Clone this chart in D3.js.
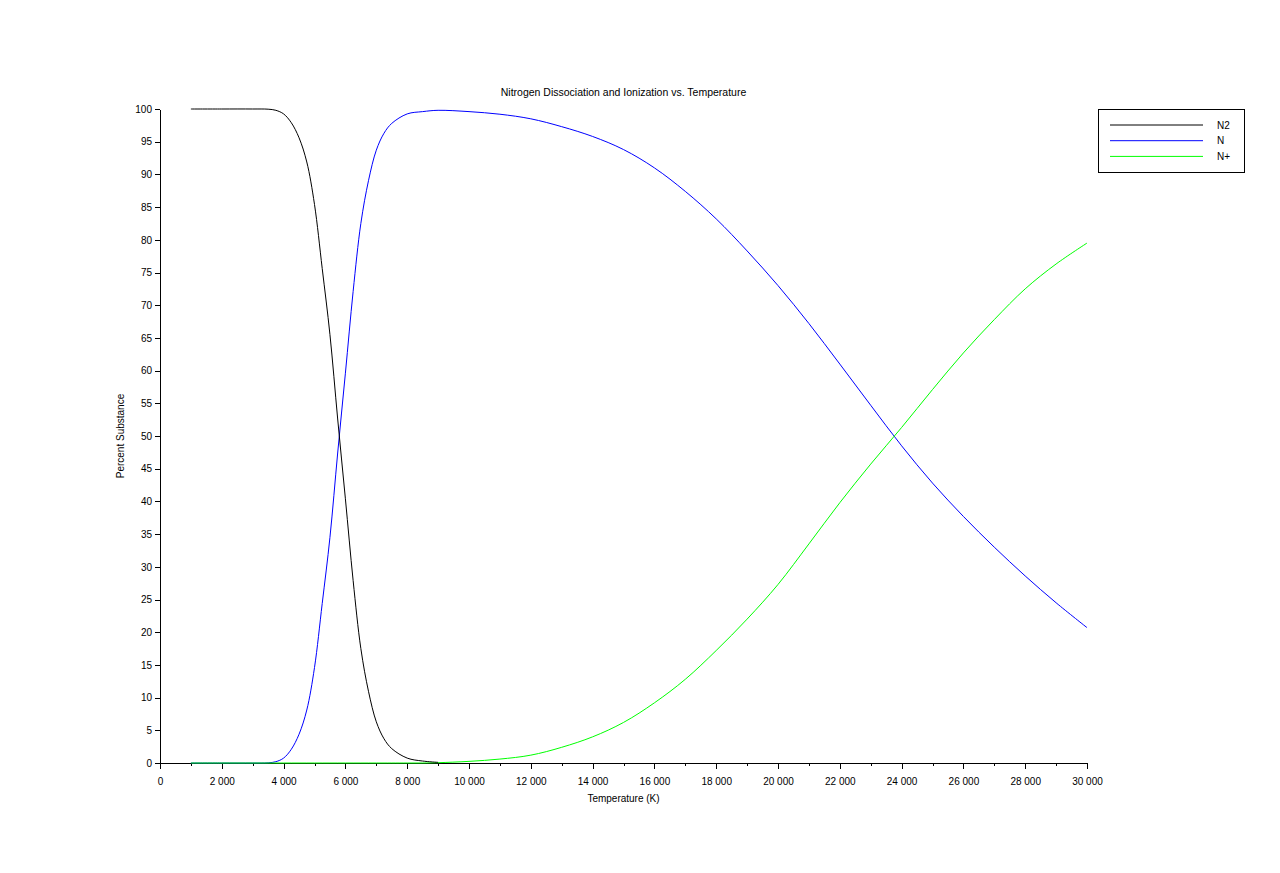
<!DOCTYPE html>
<html>
<head>
<meta charset="utf-8">
<script src="https://cdn.jsdelivr.net/npm/d3@7"></script>
<style>
  body { margin: 0; background: #fff; }
  text { font-family: "Liberation Sans", Arial, sans-serif; fill: #000; }
</style>
</head>
<body>
<div id="chart"></div>
<script>
// Temperature samples (K)
var temps = [1000, 2000, 3000, 3500, 3750, 4000, 4250, 4500, 4750, 5000, 5250, 5500, 5750,
    6000, 6250, 6500, 6750, 7000, 7250, 7500, 8000, 8500, 9000,
    10000, 11000, 12000, 13000, 14000, 15000, 16000, 17000, 18000, 19000, 20000,
    21000, 22000, 23000, 24000, 25000, 26000, 27000, 28000, 29000, 30000];

// percent of substance (null = not drawn)
var n2 = [100, 100, 100, 99.97, 99.8, 99.25, 97.9, 95.6, 91.9, 85.4, 75.6, 65.5, 52.6,
    40.4, 27.9, 17.5, 10.9, 6.3, 3.7, 2.2, 0.75, 0.3, 0.1,
    null, null, null, null, null, null, null, null, null, null, null,
    null, null, null, null, null, null, null, null, null, null];
var nAtom = [0, 0, 0, 0.03, 0.2, 0.75, 2.1, 4.4, 8.1, 14.6, 24.4, 34.5, 47.4,
    59.6, 72.1, 82.5, 89.1, 93.7, 96.3, 97.8, 99.25, 99.6, 99.8,
    99.6, 99.2, 98.5, 97.3, 95.8, 93.8, 91.0, 87.4, 83.2, 78.3, 73.0,
    67.2, 61.0, 54.7, 48.5, 42.8, 37.7, 33.0, 28.6, 24.5, 20.7];
var nIon = [0, 0, 0, 0, 0, 0, 0, 0, 0, 0, 0, 0, 0,
    0, 0, 0, 0, 0, 0, 0, 0, 0, 0.05,
    0.25, 0.6, 1.2, 2.4, 4.0, 6.2, 9.2, 12.8, 17.2, 22.0, 27.3,
    33.5, 39.8, 45.7, 51.3, 57.1, 62.7, 67.8, 72.5, 76.3, 79.5];

var seriesNames = ["N2", "N", "N+"];
var seriesColors = ["#000000", "#0000ff", "#00ff00"];
var xTicks = d3.range(0, 30001, 2000);
var xMinorTicks = d3.range(1000, 30000, 2000);
var yTicks = d3.range(0, 101, 5);

var width = 1280, height = 873;
var margin = {top: 109, right: 193, bottom: 110, left: 160};

var svg = d3.select('#chart').append('svg')
    .attr('width', width)
    .attr('height', height);

var x = d3.scaleLinear().domain([0, 30000]).range([margin.left, width - margin.right]);
var y = d3.scaleLinear().domain([0, 100]).range([height - margin.bottom, margin.top]);

var fmt = function(d) { return d3.format(',')(d).replace(/,/g, ' '); };

// x axis
var xAxis = svg.append('g')
    .attr('transform', 'translate(0,' + y(0) + ')')
    .call(d3.axisBottom(x).tickValues(xTicks).tickFormat(fmt).tickSize(6).tickSizeOuter(0));
xAxis.selectAll('text').attr('font-size', 10).attr('dy', '1.3em');

svg.append('g')
    .attr('transform', 'translate(0,' + y(0) + ')')
    .call(d3.axisBottom(x).tickValues(xMinorTicks).tickFormat('').tickSize(3).tickSizeOuter(0))
    .select('.domain').remove();

// y axis
var yAxis = svg.append('g')
    .attr('transform', 'translate(' + x(0) + ',0)')
    .call(d3.axisLeft(y).tickValues(yTicks).tickSize(5).tickSizeOuter(0));
yAxis.selectAll('text').attr('font-size', 10).attr('x', -8);

svg.selectAll('.domain, .tick line').attr('stroke', '#000').attr('shape-rendering', 'crispEdges');
svg.selectAll('.tick text').attr('font-family', '"Liberation Sans", Arial, sans-serif');

// lines (drawn N, N+, then N2 on top)
var seriesData = [n2, nAtom, nIon];
var line = d3.line()
    .defined(function(d) { return d[1] !== null; })
    .x(function(d) { return x(d[0]); })
    .y(function(d) { return y(d[1]); })
    .curve(d3.curveCatmullRom.alpha(0.5));

[1, 2, 0].forEach(function(i) {
    var pts = temps.map(function(t, j) { return [t, seriesData[i][j]]; });
    svg.append('path')
        .datum(pts)
        .attr('fill', 'none')
        .attr('stroke', seriesColors[i])
        .attr('stroke-width', 1)
        .attr('d', line);
});

// titles
svg.append('text')
    .attr('x', (x(0) + x(30000)) / 2)
    .attr('y', 96)
    .attr('text-anchor', 'middle')
    .attr('font-size', 10.5)
    .text('Nitrogen Dissociation and Ionization vs. Temperature');

svg.append('text')
    .attr('x', (x(0) + x(30000)) / 2)
    .attr('y', 802)
    .attr('text-anchor', 'middle')
    .attr('font-size', 10)
    .text('Temperature (K)');

svg.append('text')
    .attr('transform', 'translate(124,' + y(50) + ') rotate(-90)')
    .attr('text-anchor', 'middle')
    .attr('font-size', 10)
    .text('Percent Substance');

// legend
var legend = svg.append('g').attr('transform', 'translate(1098,109)');
legend.append('rect')
    .attr('x', 0.5).attr('y', 0.5)
    .attr('width', 146).attr('height', 63)
    .attr('fill', '#fff')
    .attr('stroke', '#000');

seriesNames.forEach(function(name, i) {
    var ly = 16 + i * 15.7;
    legend.append('line')
        .attr('x1', 12).attr('x2', 105)
        .attr('y1', ly).attr('y2', ly)
        .attr('stroke', seriesColors[i]);
    legend.append('text')
        .attr('x', 119).attr('y', ly + 3.5)
        .attr('font-size', 10)
        .text(name);
});
</script>
</body>
</html>
